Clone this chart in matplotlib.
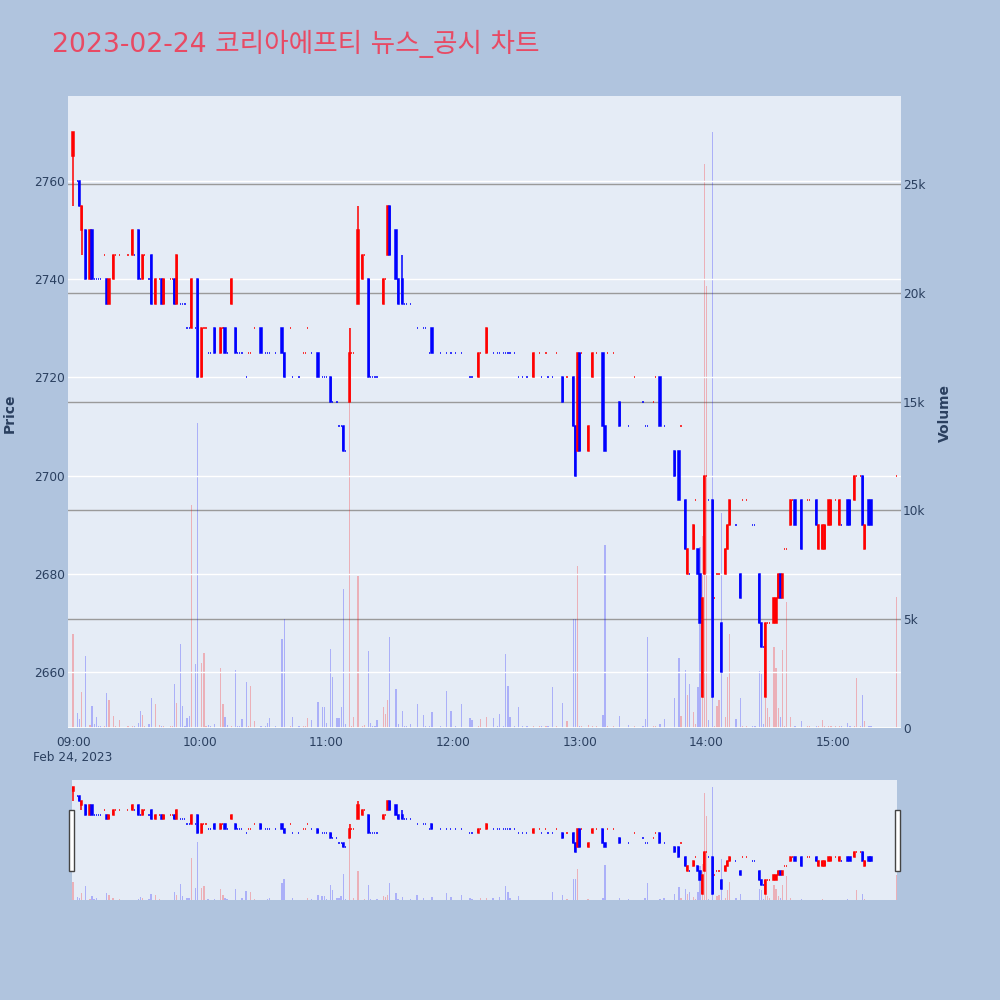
import matplotlib
matplotlib.use("Agg")
import matplotlib.pyplot as plt
from matplotlib.patches import Rectangle
import numpy as np

TITLE = "2023-02-24 코리아에프티 뉴스_공시 차트"

# minutes after 09:00
minutes = [
    0, 2, 3, 4, 6, 8, 9, 10, 11, 12, 13, 15, 16, 17, 19, 20, 22, 26, 28, 29,
    31, 32, 33, 34, 36, 37, 39, 41, 42, 43, 46, 47, 48, 49, 51, 52, 53, 54, 55, 56,
    58, 59, 61, 62, 63, 64, 65, 67, 70, 71, 72, 73, 75, 77, 78, 79, 80, 82, 83, 84,
    86, 89, 91, 92, 93, 96, 99, 100, 103, 104, 107, 109, 110, 111, 113, 116, 118, 119, 120, 122,
    123, 125, 126, 127, 128, 129, 131, 132, 133, 135, 137, 138, 140, 141, 142, 143, 144, 147, 148, 149,
    150, 153, 154, 156, 157, 158, 160, 163, 166, 167, 169, 170, 174, 177, 179, 181, 184, 188, 189, 192,
    193, 196, 199, 201, 202, 204, 205, 206, 207, 209, 211, 213, 215, 218, 221, 222, 224, 225, 227, 229,
    232, 234, 237, 238, 239, 240, 241, 244, 246, 248, 251, 252, 253, 256, 259, 263, 266, 270, 271, 272,
    275, 276, 278, 280, 285, 287, 288, 290, 291, 292, 294, 295, 296, 297, 298, 299, 300, 301, 303, 304,
    305, 306, 307, 309, 310, 311, 314, 316, 317, 319, 322, 323, 325, 326, 327, 328, 329, 330, 332, 333,
    334, 335, 336, 337, 338, 340, 341, 342, 345, 348, 349, 352, 353, 355, 356, 358, 359, 361, 363, 364,
    367, 368, 370, 371, 373, 374, 375, 377, 378, 390,
]

opens = [
    2765, 2760, 2760, 2750, 2750, 2740, 2750, 2740, 2740, 2740, 2740, 2745, 2740, 2735, 2740, 2745, 2745, 2745, 2745, 2745,
    2750, 2740, 2740, 2745, 2740, 2745, 2735, 2740, 2740, 2735, 2740, 2740, 2740, 2735, 2735, 2735, 2735, 2730, 2730, 2730,
    2730, 2740, 2720, 2730, 2730, 2725, 2725, 2730, 2725, 2730, 2730, 2725, 2735, 2730, 2725, 2725, 2725, 2720, 2725, 2725,
    2730, 2730, 2725, 2725, 2725, 2725, 2730, 2725, 2730, 2720, 2720, 2725, 2725, 2730, 2725, 2725, 2720, 2720, 2720, 2720,
    2715, 2715, 2710, 2710, 2710, 2705, 2715, 2725, 2725, 2735, 2740, 2745, 2740, 2720, 2720, 2720, 2720, 2735, 2740, 2745,
    2755, 2750, 2740, 2740, 2735, 2735, 2735, 2730, 2730, 2730, 2725, 2730, 2725, 2725, 2725, 2725, 2725, 2720, 2720, 2720,
    2725, 2725, 2725, 2725, 2725, 2725, 2725, 2725, 2725, 2725, 2720, 2720, 2720, 2720, 2725, 2720, 2725, 2720, 2720, 2725,
    2720, 2720, 2720, 2710, 2705, 2725, 2725, 2705, 2720, 2725, 2725, 2710, 2725, 2725, 2715, 2710, 2720, 2715, 2710, 2710,
    2715, 2720, 2720, 2710, 2705, 2705, 2710, 2695, 2680, 2680, 2685, 2695, 2685, 2680, 2655, 2680, 2700, 2695, 2695, 2675,
    2680, 2680, 2670, 2680, 2685, 2690, 2690, 2680, 2695, 2695, 2690, 2690, 2680, 2670, 2665, 2655, 2670, 2670, 2670, 2670,
    2675, 2680, 2675, 2685, 2685, 2690, 2695, 2695, 2695, 2695, 2695, 2695, 2685, 2685, 2685, 2690, 2690, 2695, 2690, 2690,
    2695, 2695, 2695, 2700, 2700, 2700, 2685, 2695, 2695, 2700,
]

highs = [
    2770, 2760, 2760, 2755, 2750, 2750, 2750, 2740, 2740, 2740, 2740, 2745, 2740, 2740, 2745, 2745, 2745, 2745, 2750, 2745,
    2750, 2740, 2745, 2745, 2740, 2745, 2740, 2740, 2740, 2740, 2740, 2740, 2740, 2745, 2735, 2735, 2735, 2730, 2730, 2740,
    2730, 2740, 2730, 2730, 2730, 2725, 2725, 2730, 2730, 2730, 2730, 2725, 2740, 2730, 2725, 2725, 2725, 2720, 2725, 2725,
    2730, 2730, 2725, 2725, 2725, 2725, 2730, 2725, 2730, 2720, 2720, 2725, 2725, 2730, 2725, 2725, 2720, 2720, 2720, 2720,
    2715, 2715, 2710, 2710, 2710, 2705, 2730, 2725, 2725, 2755, 2745, 2745, 2740, 2720, 2720, 2720, 2720, 2740, 2740, 2755,
    2755, 2750, 2740, 2745, 2735, 2735, 2735, 2730, 2730, 2730, 2725, 2730, 2725, 2725, 2725, 2725, 2725, 2720, 2720, 2725,
    2725, 2730, 2725, 2725, 2725, 2725, 2725, 2725, 2725, 2725, 2720, 2720, 2720, 2725, 2725, 2720, 2725, 2720, 2720, 2725,
    2720, 2720, 2720, 2710, 2725, 2725, 2725, 2710, 2725, 2725, 2725, 2710, 2725, 2725, 2715, 2710, 2720, 2715, 2710, 2710,
    2715, 2720, 2720, 2710, 2705, 2705, 2710, 2695, 2685, 2680, 2690, 2695, 2685, 2680, 2675, 2700, 2700, 2695, 2695, 2675,
    2680, 2680, 2670, 2685, 2690, 2695, 2690, 2680, 2695, 2695, 2690, 2690, 2680, 2670, 2665, 2670, 2670, 2670, 2675, 2675,
    2680, 2680, 2680, 2685, 2685, 2695, 2695, 2695, 2695, 2695, 2695, 2695, 2690, 2690, 2690, 2695, 2695, 2695, 2695, 2690,
    2695, 2695, 2700, 2700, 2700, 2700, 2690, 2695, 2695, 2700,
]

lows = [
    2755, 2760, 2755, 2745, 2740, 2740, 2740, 2740, 2740, 2740, 2740, 2745, 2735, 2735, 2740, 2745, 2745, 2745, 2745, 2745,
    2740, 2740, 2740, 2745, 2740, 2735, 2735, 2740, 2735, 2735, 2740, 2740, 2735, 2735, 2735, 2735, 2735, 2730, 2730, 2730,
    2730, 2720, 2720, 2730, 2730, 2725, 2725, 2725, 2725, 2730, 2725, 2725, 2735, 2725, 2725, 2725, 2725, 2720, 2725, 2725,
    2730, 2725, 2725, 2725, 2725, 2725, 2725, 2720, 2730, 2720, 2720, 2725, 2725, 2730, 2725, 2720, 2720, 2720, 2720, 2715,
    2715, 2715, 2710, 2710, 2705, 2705, 2715, 2725, 2725, 2735, 2740, 2745, 2720, 2720, 2720, 2720, 2720, 2735, 2740, 2745,
    2745, 2740, 2735, 2735, 2735, 2735, 2735, 2730, 2730, 2730, 2725, 2725, 2725, 2725, 2725, 2725, 2725, 2720, 2720, 2720,
    2725, 2725, 2725, 2725, 2725, 2725, 2725, 2725, 2725, 2725, 2720, 2720, 2720, 2720, 2725, 2720, 2725, 2720, 2720, 2725,
    2715, 2720, 2710, 2700, 2705, 2705, 2725, 2705, 2720, 2725, 2710, 2705, 2725, 2725, 2710, 2710, 2720, 2715, 2710, 2710,
    2715, 2720, 2710, 2710, 2700, 2695, 2710, 2685, 2680, 2680, 2685, 2695, 2680, 2670, 2655, 2680, 2700, 2695, 2655, 2675,
    2680, 2680, 2660, 2680, 2685, 2690, 2690, 2675, 2695, 2695, 2690, 2690, 2670, 2665, 2665, 2655, 2670, 2670, 2670, 2670,
    2675, 2675, 2675, 2685, 2685, 2690, 2695, 2690, 2685, 2695, 2695, 2690, 2685, 2685, 2685, 2690, 2690, 2695, 2690, 2690,
    2690, 2690, 2695, 2700, 2700, 2690, 2685, 2690, 2690, 2700,
]

closes = [
    2770, 2760, 2755, 2755, 2740, 2750, 2740, 2740, 2740, 2740, 2740, 2745, 2735, 2740, 2745, 2745, 2745, 2745, 2750, 2745,
    2740, 2740, 2745, 2745, 2740, 2735, 2740, 2740, 2735, 2740, 2740, 2740, 2735, 2745, 2735, 2735, 2735, 2730, 2730, 2740,
    2730, 2720, 2730, 2730, 2730, 2725, 2725, 2725, 2730, 2730, 2725, 2725, 2740, 2725, 2725, 2725, 2725, 2720, 2725, 2725,
    2730, 2725, 2725, 2725, 2725, 2725, 2725, 2720, 2730, 2720, 2720, 2725, 2725, 2730, 2725, 2720, 2720, 2720, 2720, 2715,
    2715, 2715, 2710, 2710, 2705, 2705, 2725, 2725, 2725, 2750, 2745, 2745, 2720, 2720, 2720, 2720, 2720, 2740, 2740, 2755,
    2745, 2740, 2735, 2735, 2735, 2735, 2735, 2730, 2730, 2730, 2725, 2725, 2725, 2725, 2725, 2725, 2725, 2720, 2720, 2725,
    2725, 2730, 2725, 2725, 2725, 2725, 2725, 2725, 2725, 2725, 2720, 2720, 2720, 2725, 2725, 2720, 2725, 2720, 2720, 2725,
    2715, 2720, 2710, 2700, 2725, 2705, 2725, 2710, 2725, 2725, 2710, 2705, 2725, 2725, 2710, 2710, 2720, 2715, 2710, 2710,
    2715, 2720, 2710, 2710, 2700, 2695, 2710, 2685, 2685, 2680, 2690, 2695, 2680, 2670, 2675, 2700, 2700, 2695, 2655, 2675,
    2680, 2680, 2660, 2685, 2690, 2695, 2690, 2675, 2695, 2695, 2690, 2690, 2670, 2665, 2665, 2670, 2670, 2670, 2675, 2675,
    2680, 2675, 2680, 2685, 2685, 2695, 2695, 2690, 2685, 2695, 2695, 2690, 2690, 2690, 2690, 2695, 2695, 2695, 2695, 2690,
    2690, 2690, 2700, 2700, 2700, 2690, 2690, 2690, 2690, 2700,
]

# volume in thousands of shares
volume_k = [
    4.3, 0.7, 0.4, 1.65, 3.3, 0.15, 1.0, 0.2, 0.5, 0.1, 0.1, 0.1, 1.6, 1.3, 0.55, 0.1, 0.35, 0.1, 0.1, 0.1,
    0.25, 0.8, 0.6, 0.1, 0.2, 1.4, 1.1, 0.15, 0.1, 0.1, 0.1, 0.1, 2.0, 1.15, 3.85, 1.0, 0.1, 0.45, 0.55, 10.25,
    2.95, 14.0, 3.0, 3.45, 0.1, 0.15, 0.1, 0.2, 2.75, 1.1, 0.5, 0.15, 0.1, 2.65, 0.1, 0.1, 0.4, 2.1, 0.1, 1.95,
    0.3, 0.1, 0.1, 0.25, 0.45, 0.1, 4.1, 5.0, 0.1, 0.5, 0.1, 0.1, 0.1, 0.45, 0.35, 1.2, 0.95, 0.95, 0.25, 3.65,
    2.35, 0.45, 0.45, 0.95, 6.4, 0.2, 18.4, 0.1, 0.5, 7.0, 0.1, 0.15, 3.55, 0.25, 0.1, 0.1, 0.35, 0.95, 0.65, 1.3,
    4.2, 1.8, 0.2, 0.8, 0.1, 0.1, 0.2, 1.1, 0.6, 0.1, 0.1, 0.75, 0.1, 1.7, 0.8, 0.1, 1.1, 0.45, 0.35, 0.1,
    0.4, 0.5, 0.45, 0.1, 0.65, 0.1, 3.4, 1.95, 0.5, 0.1, 0.95, 0.1, 0.1, 0.1, 0.1, 0.1, 0.1, 0.1, 1.9, 0.1,
    1.15, 0.3, 5.0, 5.0, 7.45, 0.1, 0.1, 0.15, 0.1, 0.1, 0.6, 8.4, 0.1, 0.1, 0.55, 0.15, 0.1, 0.1, 0.4, 4.2,
    0.1, 0.1, 0.2, 0.4, 1.4, 3.2, 0.55, 2.65, 1.5, 2.0, 0.75, 0.2, 1.9, 8.3, 8.8, 25.9, 20.3, 0.35, 27.4, 0.1,
    1.0, 1.3, 9.9, 0.5, 2.35, 4.3, 0.4, 1.4, 0.1, 0.1, 0.1, 0.1, 2.6, 2.5, 0.2, 1.4, 0.9, 0.5, 3.7, 2.75,
    0.9, 0.5, 3.6, 0.1, 5.8, 0.5, 0.05, 0.1, 0.3, 0.1, 0.1, 0.1, 0.1, 0.35, 0.1, 0.1, 0.1, 0.1, 0.1, 0.1,
    0.25, 0.1, 0.1, 2.3, 0.1, 1.5, 0.3, 0.1, 0.1, 6.0,
]

price_ticks = [2660, 2680, 2700, 2720, 2740, 2760]
volume_ticks = [0, 5, 10, 15, 20, 25]
volume_tick_labels = ["0", "5k", "10k", "15k", "20k", "25k"]
time_ticks = [0, 60, 120, 180, 240, 300, 360]
time_labels = ["09:00", "10:00", "11:00", "12:00", "13:00", "14:00", "15:00"]
date_label = "Feb 24, 2023"

UP = "#ff0000"
DOWN = "#0000ff"
PAPER = "#b0c4de"
PLOT_BG = "#e5ecf6"
TEXT = "#2a3f5f"
PRICE_LIM = (2648.6, 2777.3)
VOL_LIM = (0, 29.04)


def candle_colors():
    colors = []
    prev_close = None
    prev_col = UP
    for o, c in zip(opens, closes):
        if c > o:
            col = UP
        elif c < o:
            col = DOWN
        elif prev_close is not None and c > prev_close:
            col = UP
        elif prev_close is not None and c < prev_close:
            col = DOWN
        else:
            col = prev_col
        colors.append(col)
        prev_close, prev_col = c, col
    return colors


def draw(ax_p, ax_v, colors):
    x = np.array(minutes)
    o = np.array(opens)
    c = np.array(closes)
    ax_v.bar(x, volume_k, width=0.6, color=colors, alpha=0.25, linewidth=0)
    ax_p.vlines(x, lows, highs, colors=colors, linewidth=1.1, zorder=3)
    ax_p.bar(x, np.abs(c - o), bottom=np.minimum(o, c), width=0.55,
             color=colors, edgecolor=colors, linewidth=1.1, zorder=4)


def stack_axes(rect):
    # price axes drawn on top of the volume axes, which carries the background
    a = fig.add_axes(rect)
    av = a.twinx()
    a.set_zorder(av.get_zorder() + 1)
    a.patch.set_visible(False)
    av.patch.set_visible(True)
    av.set_facecolor(PLOT_BG)
    return a, av


plt.rcParams["font.family"] = ["DejaVu Sans", "Noto Sans CJK KR"]
colors = candle_colors()

fig = plt.figure(figsize=(10, 10), dpi=100, facecolor=PAPER)

# main chart
ax, axv = stack_axes([0.068, 0.272, 0.833, 0.632])
draw(ax, axv, colors)

ax.set_xlim(-2.4, 392.2)
ax.set_ylim(*PRICE_LIM)
axv.set_ylim(*VOL_LIM)

ax.set_yticks(price_ticks)
ax.set_yticklabels([str(p) for p in price_ticks])
ax.grid(axis="y", color="white", linewidth=1.0)
ax.set_xticks(time_ticks)
ax.set_xticklabels(time_labels)
ax.tick_params(axis="y", length=0, pad=2, labelsize=8.7, labelcolor=TEXT)
ax.tick_params(axis="x", length=0, pad=6, labelsize=8.7, labelcolor=TEXT)

axv.set_yticks(volume_ticks)
axv.set_yticklabels(volume_tick_labels)
axv.grid(axis="y", color="#9a9a9a", linewidth=1.0)
axv.set_axisbelow(True)
axv.axhline(0, color="white", linewidth=2, zorder=1)
axv.tick_params(axis="y", length=0, pad=1.5, labelsize=8.7, labelcolor=TEXT)

for a in (ax, axv):
    for s in a.spines.values():
        s.set_visible(False)

ax.text(0, -0.046, date_label, transform=ax.get_xaxis_transform(),
        ha="center", va="center", fontsize=8.7, color=TEXT)

fig.text(0.0095, 0.587, "Price", rotation=90, ha="center", va="center",
         fontsize=10, fontweight="bold", color=TEXT)
fig.text(0.945, 0.587, "Volume", rotation=90, ha="center", va="center",
         fontsize=10, fontweight="bold", color=TEXT)

fig.text(0.052, 0.956, TITLE, ha="left", va="center", fontsize=19.2,
         color="#e84a64", family=["DejaVu Sans", "Noto Sans CJK KR"])

# range slider
sl, slv = stack_axes([0.072, 0.100, 0.825, 0.120])
draw(sl, slv, colors)
sl.set_xlim(-0.47, 390.3)
sl.set_ylim(*PRICE_LIM)
slv.set_ylim(*VOL_LIM)
for a in (sl, slv):
    a.set_xticks([])
    a.set_yticks([])
    for s in a.spines.values():
        s.set_visible(False)

for hx in (0.0693, 0.8953):
    fig.patches.append(Rectangle((hx, 0.129), 0.0044, 0.061, transform=fig.transFigure,
                                 facecolor="white", edgecolor="#444444", linewidth=1.0))

fig.savefig("out.png", dpi=100, facecolor=PAPER)
